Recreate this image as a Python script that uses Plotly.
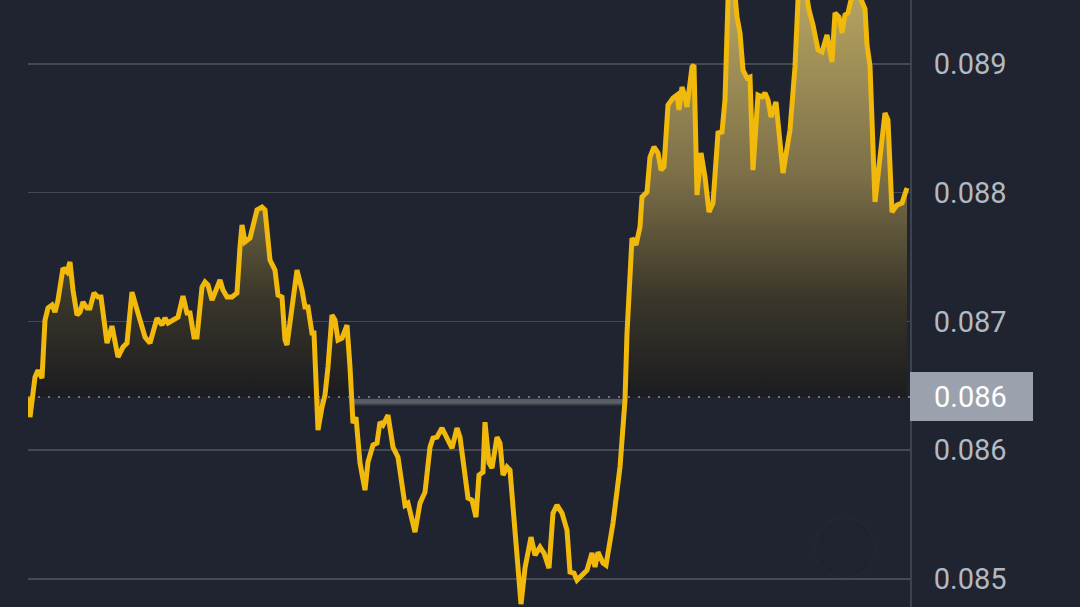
import numpy as np
import plotly.graph_objects as go

# ---- data (time step index, price) ----
times = [0, 2, 7, 10, 14, 17, 20, 24, 27, 30, 35, 39, 42, 45, 49, 52, 55, 59, 62, 66,
         70, 73, 79, 84, 90, 95, 99, 104, 110, 117, 122, 129, 134, 137, 140, 145, 150, 155, 159, 162,
         166, 169, 174, 177, 180, 184, 189, 192, 195, 199, 204, 209, 212, 214, 217, 222, 229, 234, 237, 242,
         247, 250, 254, 257, 259, 264, 269, 274, 277, 280, 284, 286, 290, 294, 297, 300, 304, 307, 310, 314,
         319, 322, 325, 328, 332, 337, 340, 345, 349, 352, 355, 360, 365, 370, 377, 380, 387, 392, 397, 402,
         405, 409, 414, 419, 424, 429, 432, 440, 444, 448, 451, 455, 457, 461, 464, 469, 472, 475, 479, 482,
         489, 493, 497, 503, 507, 512, 516, 521, 525, 529, 534, 539, 542, 546, 549, 554, 559, 564, 567, 570,
         575, 578, 585, 592, 597, 599, 604, 608, 612, 614, 619, 622, 626, 630, 633, 636, 640, 645, 649, 651,
         654, 657, 659, 664, 666, 669, 673, 677, 681, 685, 690, 694, 697, 700, 703, 707, 709, 712, 715, 719,
         722, 725, 730, 734, 737, 740, 743, 748, 755, 762, 767, 770, 774, 778, 781, 785, 790, 794, 799, 804,
         807, 811, 814, 817, 820, 823, 827, 832, 837, 839, 842, 847, 854, 857, 860, 864, 869, 874, 879]

prices = [0.086413, 0.086257, 0.086568, 0.086622, 0.086560, 0.087011, 0.087104, 0.087127, 0.087073, 0.087166,
          0.087415, 0.087384, 0.087462, 0.087244, 0.087050, 0.087073, 0.087151, 0.087104, 0.087104, 0.087221,
          0.087190, 0.087190, 0.086832, 0.086964, 0.086723, 0.086801, 0.086832, 0.087228, 0.087065, 0.086879,
          0.086832, 0.087026, 0.086972, 0.087026, 0.086988, 0.087011, 0.087034, 0.087197, 0.087065, 0.087065,
          0.086879, 0.086879, 0.087267, 0.087306, 0.087283, 0.087166, 0.087260, 0.087322, 0.087244, 0.087190,
          0.087190, 0.087221, 0.087578, 0.087749, 0.087617, 0.087648, 0.087866, 0.087889, 0.087866, 0.087477,
          0.087399, 0.087205, 0.087190, 0.086856, 0.086817, 0.087112, 0.087399, 0.087244, 0.087112, 0.087112,
          0.086910, 0.086910, 0.086156, 0.086335, 0.086428, 0.086646, 0.087050, 0.087011, 0.086856, 0.086871,
          0.086972, 0.086646, 0.086211, 0.086257, 0.085900, 0.085690, 0.085908, 0.086040, 0.086055, 0.086218,
          0.086195, 0.086273, 0.086024, 0.085946, 0.085573, 0.085589, 0.085364, 0.085589, 0.085674, 0.086024,
          0.086094, 0.086102, 0.086172, 0.086094, 0.086016, 0.086172, 0.086102, 0.085628, 0.085612, 0.085480,
          0.085807, 0.085830, 0.086218, 0.085900, 0.085861, 0.086102, 0.086055, 0.085807, 0.085869, 0.085845,
          0.085224, 0.084804, 0.085084, 0.085325, 0.085185, 0.085247, 0.085201, 0.085084, 0.085511, 0.085573,
          0.085511, 0.085379, 0.085053, 0.085045, 0.084991, 0.085030, 0.085068, 0.085201, 0.085092, 0.085208,
          0.085123, 0.085107, 0.085434, 0.085869, 0.086389, 0.086910, 0.087648, 0.087594, 0.087734, 0.087967,
          0.088005, 0.088277, 0.088355, 0.088309, 0.088176, 0.088200, 0.088681, 0.088736, 0.088759, 0.088643,
          0.088821, 0.088744, 0.088666, 0.088977, 0.088992, 0.087982, 0.088309, 0.088122, 0.087850, 0.087920,
          0.088464, 0.088472, 0.088720, 0.089497, 0.089614, 0.089536, 0.089365, 0.089241, 0.088953, 0.088891,
          0.088899, 0.088176, 0.088759, 0.088744, 0.088775, 0.088720, 0.088588, 0.088705, 0.088153, 0.088487,
          0.088977, 0.089497, 0.089591, 0.089559, 0.089420, 0.089303, 0.089109, 0.089093, 0.089225, 0.089016,
          0.089396, 0.089365, 0.089241, 0.089381, 0.089396, 0.089497, 0.089575, 0.089521, 0.089427, 0.089148,
          0.088985, 0.087928, 0.088386, 0.088619, 0.088565, 0.087850, 0.087904, 0.087920, 0.088037]

base_price = 0.086413
tick_values = [0.085, 0.086, 0.087, 0.088, 0.089]
tick_labels = ["0.085", "0.086", "0.087", "0.088", "0.089"]
base_label = "0.086"

# ---- style ----
BG = "#1f2430"
LINE = "#f0b90b"
GRID = "#434a55"
TICK = "#b3b9c2"
FONT = "Roboto"

# insert baseline crossings so fills split cleanly
t = np.array(times, float)
p = np.array(prices, float)
xs, ys = [t[0]], [p[0]]
for i in range(len(t) - 1):
    a, b = p[i] - base_price, p[i + 1] - base_price
    if a * b < 0:
        f = a / (a - b)
        xs.append(t[i] + f * (t[i + 1] - t[i]))
        ys.append(base_price)
    xs.append(t[i + 1])
    ys.append(p[i + 1])
xs = np.array(xs)
ys = np.array(ys)
upper = np.maximum(ys, base_price)
lower = np.minimum(ys, base_price)
basey = np.full_like(xs, base_price)

yr = [0.084782, 0.089497]
px_unit = (yr[1] - yr[0]) / 607.0

fig = go.Figure()
fig.add_trace(go.Scatter(x=xs, y=basey, mode="lines", line=dict(width=0), hoverinfo="skip", showlegend=False))
fig.add_trace(go.Scatter(
    x=xs, y=upper, mode="lines", line=dict(width=0), fill="tonexty",
    fillgradient=dict(type="vertical", start=base_price, stop=yr[1],
                      colorscale=[[0, "#1b1c20"], [0.25, "#3a3629"], [0.55, "#7b6e47"],
                                  [0.8, "#9b8b55"], [1, "#b3a25f"]]),
    hoverinfo="skip", showlegend=False))
fig.add_trace(go.Scatter(x=xs, y=basey, mode="lines", line=dict(width=0), hoverinfo="skip", showlegend=False))
fig.add_trace(go.Scatter(
    x=xs, y=lower, mode="lines", line=dict(width=0), fill="tonexty",
    fillgradient=dict(type="vertical", start=base_price - 9 * px_unit, stop=base_price,
                      colorscale=[[0, "rgba(90,95,104,0)"], [0.2, "rgba(90,95,104,0.6)"],
                                  [0.4, "rgba(90,95,104,1)"], [0.75, "rgba(90,95,104,0.9)"],
                                  [0.88, "rgba(31,36,48,0)"], [1, "rgba(31,36,48,0)"]]),
    hoverinfo="skip", showlegend=False))
fig.add_trace(go.Scatter(x=t, y=p, mode="lines", line=dict(color=LINE, width=5),
                         hoverinfo="skip", showlegend=False))

# dotted baseline
fig.add_shape(type="line", xref="paper", x0=0, x1=1, yref="y", y0=base_price, y1=base_price,
              line=dict(color="#8a9099", width=1.5, dash="2px,8px"), layer="above")
# faint watermark circle
fig.add_shape(type="circle", xref="paper", yref="paper", xsizemode="pixel", ysizemode="pixel",
              xanchor=0.926, yanchor=0.097, x0=-30, x1=30, y0=-30, y1=30,
              line=dict(color="rgba(255,255,255,0.012)", width=3), fillcolor="rgba(0,0,0,0.02)",
              layer="below")
# current-price box on the axis
fig.add_shape(type="rect", xref="paper", xsizemode="pixel", xanchor=1, x0=0, x1=123,
              yref="y", ysizemode="pixel", yanchor=base_price, y0=-24, y1=25,
              fillcolor="#9ca2ad", line=dict(width=0), layer="above")
fig.add_annotation(xref="paper", x=1, xanchor="left", xshift=22, yref="y", y=base_price,
                   yanchor="middle", text=base_label, showarrow=False,
                   font=dict(family=FONT, size=29, color="#ffffff"))

fig.update_layout(
    width=1080, height=607,
    margin=dict(l=28, r=170, t=0, b=0),
    paper_bgcolor=BG, plot_bgcolor=BG,
    hovermode=False,
    xaxis=dict(visible=False, range=[0, 882]),
    yaxis=dict(side="right", range=yr, tickvals=tick_values, ticktext=tick_labels,
               showgrid=True, gridcolor=GRID, gridwidth=1.5, zeroline=False,
               showline=True, linecolor="#3c434e", linewidth=2, ticks="",
               ticklabelstandoff=16, tickfont=dict(family=FONT, size=29, color=TICK)),
)
fig.write_html("out.html", config={"displayModeBar": False, "staticPlot": True},
               post_script="document.body.style.margin='0';document.body.style.background='%s';" % BG)
